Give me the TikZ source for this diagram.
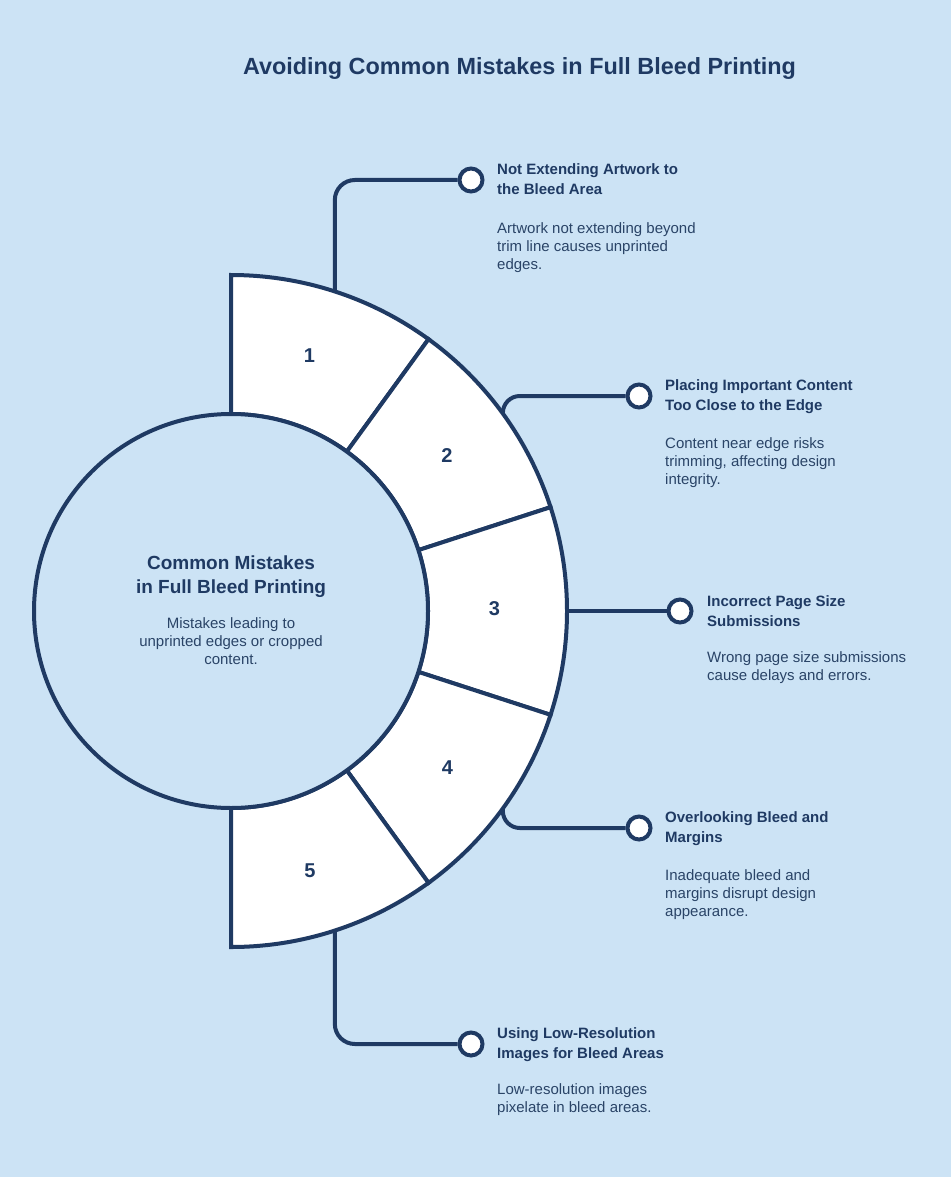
\documentclass[tikz,border=0pt]{standalone}
\usepackage{fontspec}
\setmainfont{Liberation Sans}
\definecolor{bg}{HTML}{CCE3F5}
\definecolor{navy}{HTML}{1F3A63}
\definecolor{txt}{HTML}{2A4467}
\begin{document}
\begin{tikzpicture}[x=1pt,y=1pt,
  seg/.style={fill=white,draw=navy,line width=4pt,line join=miter},
  conn/.style={draw=navy,line width=4pt},
  marker/.style={circle,fill=white,draw=navy,line width=4pt,minimum size=23pt,inner sep=0pt},
  ttl/.style={anchor=north west,inner sep=0pt,text=navy,font=\bfseries\fontsize{15}{20}\selectfont,align=left},
  dsc/.style={anchor=north west,inner sep=0pt,text=txt,font=\fontsize{15}{18}\selectfont,align=left},
  num/.style={inner sep=0pt,text=navy,font=\bfseries\fontsize{20}{24}\selectfont}]
\fill[bg] (0,0) rectangle (951,-1177);
\useasboundingbox (0,0) rectangle (951,-1177);

\node[anchor=base,inner sep=0pt,text=navy,font=\bfseries\fontsize{23.4}{28}\selectfont] (title) at (519.5,-74.3) {Avoiding Common Mistakes in Full Bleed Printing};

% markers
\node[marker] (m1) at (471,-180) {};
\node[marker] (m2) at (639,-396) {};
\node[marker] (m3) at (680,-611) {};
\node[marker] (m4) at (639,-828) {};
\node[marker] (m5) at (471,-1044) {};

\begin{scope}[shift={(231,-611)}]
  \coordinate (c1) at (72:336);
  \coordinate (c2) at (36:336);
  \coordinate (c3) at (0:336);
  \coordinate (c4) at (-36:336);
  \coordinate (c5) at (-72:336);
\end{scope}

% connectors
\draw[conn,rounded corners=20] (c1) |- (m1);
\draw[conn,rounded corners=17] (c2) |- (m2);
\draw[conn] (c3) -- (m3);
\draw[conn,rounded corners=17] (c4) |- (m4);
\draw[conn,rounded corners=20] (c5) |- (m5);

% segments
\begin{scope}[shift={(231,-611)}]
  \foreach \a in {90,54,18,-18,-54}{
    \pgfmathsetmacro\b{\a-36}
    \draw[seg] (\a:197) -- (\a:336) arc[start angle=\a,end angle=\b,radius=336] -- (\b:197) arc[start angle=\b,end angle=\a,radius=197] -- cycle;
  }
  \node[circle,draw=navy,fill=bg,line width=4pt,minimum size=394pt,inner sep=0pt] (core) at (0,0) {};
\end{scope}

\node[num] (n1) at (309.5,-355.5) {1};
\node[num] (n2) at (447,-455.5) {2};
\node[num] (n3) at (494.5,-608.5) {3};
\node[num] (n4) at (447.5,-768) {4};
\node[num] (n5) at (310,-870.5) {5};

\node[anchor=north,inner sep=0pt,text=navy,font=\bfseries\fontsize{19}{24}\selectfont,align=center] (ct) at (231,-556) {Common Mistakes\\in Full Bleed Printing};
\node[anchor=north,inner sep=0pt,text=txt,font=\fontsize{15}{18}\selectfont,align=center] (cd) at (231,-617) {Mistakes leading to\\unprinted edges or cropped\\content.};

\node[ttl] (t1) at (497,-163) {Not Extending Artwork to\\the Bleed Area};
\node[dsc] (d1) at (497,-222) {Artwork not extending beyond\\trim line causes unprinted\\edges.};
\node[ttl] (t2) at (665,-379) {Placing Important Content\\Too Close to the Edge};
\node[dsc] (d2) at (665,-437) {Content near edge risks\\trimming, affecting design\\integrity.};
\node[ttl] (t3) at (707,-595) {Incorrect Page Size\\Submissions};
\node[dsc] (d3) at (707,-651) {Wrong page size submissions\\cause delays and errors.};
\node[ttl] (t4) at (665,-811) {Overlooking Bleed and\\Margins};
\node[dsc] (d4) at (665,-869) {Inadequate bleed and\\margins disrupt design\\appearance.};
\node[ttl] (t5) at (497,-1027) {Using Low-Resolution\\Images for Bleed Areas};
\node[dsc] (d5) at (497,-1083) {Low-resolution images\\pixelate in bleed areas.};
\end{tikzpicture}
\end{document}
